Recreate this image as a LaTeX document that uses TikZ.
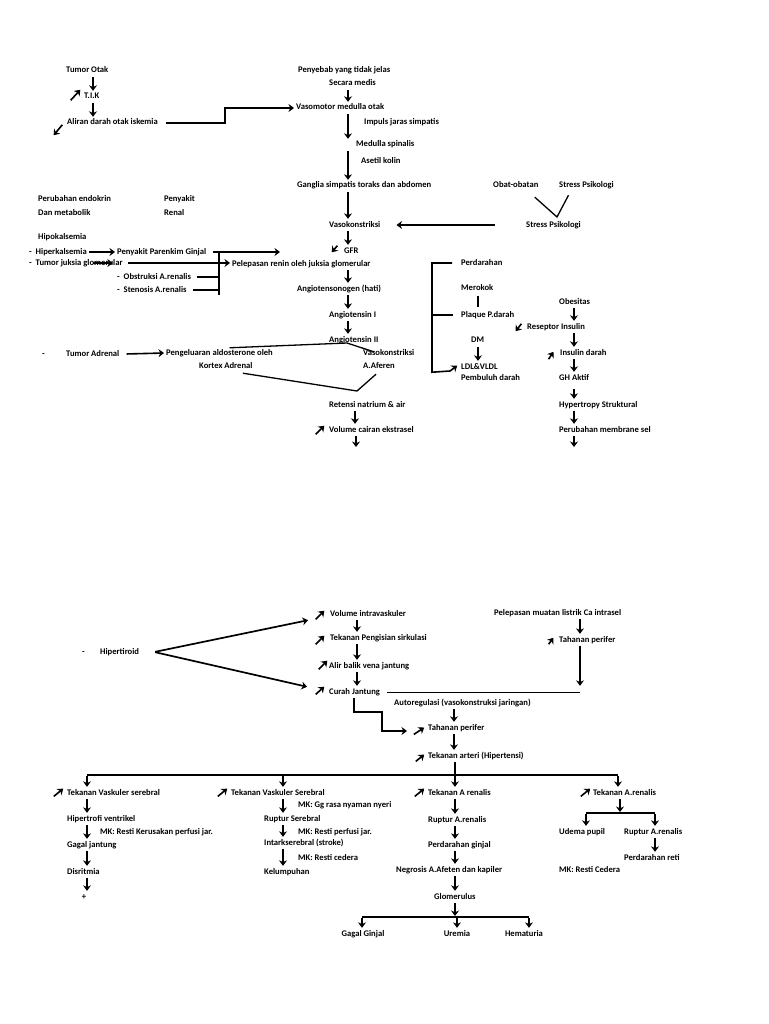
\documentclass[tikz,border=0pt]{standalone}
\usepackage{fontspec}
\setmainfont{Carlito}
\usetikzlibrary{arrows.meta}
\begin{document}
\begin{tikzpicture}[x=1pt,y=-1pt,
  t/.style={anchor=west, inner sep=1pt, text height=6pt, text depth=2pt, font=\fontsize{8.6}{10}\selectfont\bfseries},
  tc/.style={t, anchor=center},
  arr/.style={line width=1.6pt, -{Stealth[length=5.5pt,width=8pt,inset=1.8pt]}, shorten >=1pt, shorten <=1pt},
  conn/.style={line width=1.3pt},
  ]
\fill[white] (0,0) rectangle (768,1024);
\path[use as bounding box] (0,0) rectangle (768,1024);

% ---------- top part ----------
\node[t] (tumor) at (65,71) {Tumor Otak};
\node[t] (tik) at (83,97) {T.I.K};
\node[t] (aliran) at (66,123) {Aliran darah otak iskemia};
\node[t] (penyebab) at (297,71) {Penyebab yang tidak jelas};
\node[t] (secara) at (328,84) {Secara medis};
\node[t] (vasomotor) at (295,108) {Vasomotor medulla otak};
\node[t] (impuls) at (363,123) {Impuls jaras simpatis};
\node[t] (medulla) at (355,145) {Medulla spinalis};
\node[t] (asetil) at (360,162) {Asetil kolin};
\node[t] (ganglia) at (296,186) {Ganglia simpatis toraks dan abdomen};
\node[t] (vaso1) at (328,225) {Vasokonstriksi};
\node[t] (obat) at (492,186) {Obat-obatan};
\node[t] (stress1) at (558,186) {Stress Psikologi};
\node[t] (stress2) at (525,225) {Stress Psikologi};
\node[t] (gfr) at (343,251) {GFR};
\node[t] (renin) at (231,264) {Pelepasan renin oleh juksia glomerular};
\node[t] (angio0) at (296,289) {Angiotensonogen (hati)};
\node[t] (angio1) at (328,315) {Angiotensin I};
\node[t] (angio2) at (328,340) {Angiotensin II};
\node[t] (aldo) at (165,353) {Pengeluaran aldosterone oleh};
\node[t] (kortex) at (198,366) {Kortex Adrenal};
\node[t] (vaso2) at (362,353) {Vasokonstriksi};
\node[t] (aferen) at (362,366) {A.Aferen};
\node[t] (retensi) at (328,405) {Retensi natrium \& air};
\node[t] (volume) at (328,430) {Volume cairan ekstrasel};

\node[t] (endo) at (37,200) {Perubahan endokrin};
\node[t] (dan) at (37,213) {Dan metabolik};
\node[t] (penyakit) at (163,200) {Penyakit};
\node[t] (renal) at (163,213) {Renal};
\node[t] (hipok) at (37,238) {Hipokalsemia};
\node[t] (hiperk) at (28,252) {-\ \ Hiperkalsemia};
\node[t] (parenkim) at (116,252) {Penyakit Parenkim Ginjal};
\node[t] (tumorj) at (28,263) {-\ \ Tumor juksia glomerular};
\node[t] (obstruksi) at (116,277) {-\ \ Obstruksi A.renalis};
\node[t] (stenosis) at (116,290) {-\ \ Stenosis A.renalis};
\node[t] (dashA) at (41,354) {-};
\node[t] (tadrenal) at (65,354) {Tumor Adrenal};

\node[t] (perdarahan) at (460,263) {Perdarahan};
\node[t] (merokok) at (460,288) {Merokok};
\node[t] (plaque) at (460,315) {Plaque P.darah};
\node[t] (dm) at (470,340) {DM};
\node[t] (ldl) at (460,367) {LDL\&VLDL};
\node[t] (pembuluh) at (460,378) {Pembuluh darah};
\node[t] (obesitas) at (558,302) {Obesitas};
\node[t] (reseptor) at (526,327) {Reseptor Insulin};
\node[t] (insulin) at (559,353) {Insulin darah};
\node[t] (gh) at (558,378) {GH Aktif};
\node[t] (hyper) at (558,405) {Hypertropy Struktural};
\node[t] (membrane) at (558,430) {Perubahan membrane sel};

\coordinate (vj) at (557,217);
\coordinate (apex) at (347,343);
\coordinate (conv) at (357,391);
\coordinate (vend) at (356,448);
\coordinate (pk) at (281,252);
\coordinate (mend) at (574,448);

\draw[arr] (93,0 |- tumor.south) -- (93,0 |- tik.north);
\draw[arr] ([shift={(-13,4)}]tik.west) -- ++(11,-12);
\draw[arr] (93,0 |- tik.south) -- (93,0 |- aliran.north);
\draw[arr] ([shift={(-3,1)}]aliran.west) -- ++(-10,12);
\draw[arr] ([shift={(6,0)}]aliran.east) -- (225,0 |- aliran.east) |- (vasomotor.west);
\draw[arr] (348,0 |- secara.south) -- (348,0 |- vasomotor.north);
\draw[arr] (348,0 |- vasomotor.south) -- (348,0 |- medulla.north);
\draw[arr] (348,0 |- medulla.south) -- (348,0 |- ganglia.north);
\draw[arr] (348,0 |- ganglia.south) -- (348,0 |- vaso1.north);
\draw[arr, shorten <=30pt, shorten >=15pt] (stress2.west) -- (vaso1.east);
\draw[conn] ([shift={(19,6)}]obat.south) -- (vj) -- ([shift={(-18,4)}]stress1.south);
\draw[arr] (348,0 |- vaso1.south) -- (348,0 |- gfr.north);
\draw[arr] ([shift={(-5,-6)}]gfr.west) -- ++(-7,8);
\draw[arr] (348,0 |- renin.south) -- (348,0 |- angio0.north);
\draw[arr] (348,0 |- angio0.south) -- (348,0 |- angio1.north);
\draw[arr] (348,0 |- angio1.south) -- (348,0 |- angio2.north);
\draw[conn] ([shift={(10,0)}]aldo.north) -- (apex) -- ([shift={(-15,4)}]vaso2.north);
\draw[conn] ([shift={(17,2)}]kortex.south) -- (conv) -- ([shift={(-3,3)}]aferen.south);
\draw[arr] (355,0 |- retensi.south) -- (355,0 |- volume.north);
\draw[arr] ([shift={(-13,5)}]volume.west) -- ++(10,-10);
\draw[arr] (356,0 |- volume.south) -- (vend);

\draw[arr] (hiperk.east) -- (parenkim.west);
\draw[arr] ([shift={(5,0)}]parenkim.east) -- (pk);
\draw[arr] ([shift={(-32,0)}]tumorj.east) -- ([shift={(-10,0)}]tumorj.east);
\draw[arr] ([shift={(3,0)}]tumorj.east) -- (tumorj.east -| renin.west);
\draw[conn] ([shift={(5,0)}]obstruksi.east) -- (219,0 |- obstruksi.east);
\draw[conn] ([shift={(5,0)}]stenosis.east) -- (219,0 |- stenosis.east);
\draw[conn] (219,0 |- parenkim.east) -- (219,0 |- stenosis.south);
\draw[arr] ([shift={(5,0)}]tadrenal.east) -- (aldo.west);

\draw[arr] ([shift={(-7,0)}]perdarahan.west) -- (432,0 |- perdarahan.west) -- (432,0 |- ldl.south) -- ([shift={(-10,4)}]ldl.west) -- ([shift={(-2,-2)}]ldl.west);
\draw[conn] (432,0 |- plaque.west) -- ([shift={(-7,0)}]plaque.west);
\draw[conn, shorten <=3pt, shorten >=3pt] (478,0 |- merokok.south) -- (478,0 |- plaque.north);
\draw[arr, shorten <=2pt] (478,0 |- dm.south) -- (478,0 |- ldl.north);
\draw[arr] (574,0 |- obesitas.south) -- (574,0 |- reseptor.north);
\draw[arr] ([shift={(-4,-4)}]reseptor.west) -- ++(-7,9);
\draw[arr] (574,0 |- reseptor.south) -- (574,0 |- insulin.north);
\draw[arr] ([shift={(-11,7)}]insulin.west) -- ++(6,-9);
\draw[arr] (574,0 |- insulin.south) -- (574,0 |- gh.north);
\draw[arr, shorten <=6pt] (574,0 |- gh.south) -- (574,0 |- hyper.north);
\draw[arr] (574,0 |- hyper.south) -- (574,0 |- membrane.north);
\draw[arr] (574,0 |- membrane.south) -- (mend);

% ---------- bottom part ----------
\node[t] (hdash) at (81,652) {-};
\node[t] (hiper) at (99,652) {Hipertiroid};
\node[t] (volintra) at (329,614) {Volume intravaskuler};
\node[t] (tekpeng) at (329,638) {Tekanan Pengisian sirkulasi};
\node[t] (alir) at (328,666) {Alir balik vena jantung};
\node[t] (curah) at (328,692) {Curah Jantung};
\node[t] (pelepasan) at (493,613) {Pelepasan muatan listrik Ca intrasel};
\node[t] (tahanan1) at (558,640) {Tahanan perifer};
\node[t] (auto) at (393,703) {Autoregulasi (vasokonstruksi jaringan)};
\node[t] (tahanan2) at (427,728) {Tahanan perifer};
\node[t] (tekart) at (427,756) {Tekanan arteri (Hipertensi)};

\node[t] (b1a) at (66,793) {Tekanan Vaskuler serebral};
\node[t] (b1b) at (66,819) {Hipertrofi ventrikel};
\node[t] (b1mk) at (99,832) {MK: Resti Kerusakan perfusi jar.};
\node[t] (b1c) at (66,845) {Gagal jantung};
\node[t] (b1d) at (66,872) {Disritmia};
\node[tc] (b1e) at (84,897) {+};

\node[t] (b2a) at (230,793) {Tekanan Vaskuler Serebral};
\node[t] (b2mk1) at (297,805) {MK: Gg rasa nyaman nyeri};
\node[t] (b2b) at (263,819) {Ruptur Serebral};
\node[t] (b2mk2) at (297,832) {MK: Resti perfusi jar.};
\node[t] (b2c) at (263,843) {Intarkserebral (stroke)};
\node[t] (b2mk3) at (297,858) {MK: Resti cedera};
\node[t] (b2d) at (263,872) {Kelumpuhan};

\node[t] (b3a) at (427,793) {Tekanan A renalis};
\node[t] (b3b) at (427,820) {Ruptur A.renalis};
\node[t] (b3c) at (427,845) {Perdarahan ginjal};
\node[t] (b3d) at (395,870) {Negrosis A.Afeten dan kapiler};
\node[t] (b3e) at (433,897) {Glomerulus};
\node[tc] (gg) at (363,934) {Gagal Ginjal};
\node[tc] (ur) at (457,934) {Uremia};
\node[tc] (hem) at (524,934) {Hematuria};

\node[t] (b4a) at (592,793) {Tekanan A.renalis};
\node[t] (udema) at (558,832) {Udema pupil};
\node[t] (ruptur4) at (623,832) {Ruptur A.renalis};
\node[t] (perdreti) at (623,858) {Perdarahan reti};
\node[t] (mk4) at (558,870) {MK: Resti Cedera};

\coordinate (hs) at ([shift={(14,0)}]hiper.east);
\coordinate (cb1) at (382,712);
\coordinate (cb2) at (382,731);
\coordinate (hl1) at (87,775);
\coordinate (hl2) at (618,775);
\coordinate (gl1) at (362,917);
\coordinate (gl2) at (529,917);
\coordinate (l4a) at (586,813);
\coordinate (l4b) at (655,813);

\draw[arr, line width=1.7pt] (hs) -- ([shift={(-20,6)}]volintra.west);
\draw[arr, line width=1.7pt] (hs) -- ([shift={(-20,-5)}]curah.west);
\draw[arr] ([shift={(-14,6)}]volintra.west) -- ++(10,-10);
\draw[arr] ([shift={(-14,7)}]tekpeng.west) -- ++(10,-10);
\draw[arr] ([shift={(-10,4)}]alir.west) -- ++(10,-10);
\draw[arr] ([shift={(-13,3)}]curah.west) -- ++(10,-9);
\draw[arr] (357,0 |- volintra.south) -- (357,0 |- tekpeng.north);
\draw[arr] (357,0 |- tekpeng.south) -- (357,0 |- alir.north);
\draw[arr] (357,0 |- alir.south) -- (357,0 |- curah.north);
\draw[line width=0.8pt] ([shift={(6,0)}]curah.east) -- (580,0 |- curah.east);
\draw[arr] (580,0 |- pelepasan.south) -- (580,0 |- tahanan1.north);
\draw[arr] ([shift={(-10,5)}]tahanan1.west) -- ++(6,-8);
\draw[arr] (580,0 |- tahanan1.south) -- (580,0 |- curah.north);
\draw[arr] (354,0 |- curah.south) |- (cb1) -- (cb2) -- ([shift={(-19,3)}]tahanan2.west);
\draw[arr] (454,0 |- auto.south) -- (454,0 |- tahanan2.north);
\draw[arr] ([shift={(-14,7)}]tahanan2.west) -- ++(12,-8);
\draw[arr] (454,0 |- tahanan2.south) -- (454,0 |- tekart.north);
\draw[arr] ([shift={(-12,6)}]tekart.west) -- ++(10,-8);

\draw[conn] (hl1) -- (hl2);
\draw[arr] (455,0 |- tekart.south) -- (455,0 |- b3a.north);
\draw[arr] (hl1) -- (87,0 |- b1a.north);
\draw[arr] (283,0 |- hl1) -- (283,0 |- b2a.north);
\draw[arr] (hl2) -- (618,0 |- b4a.north);

\draw[arr] ([shift={(-13,4)}]b1a.west) -- ++(11,-9);
\draw[arr] (87,0 |- b1a.south) -- (87,0 |- b1b.north);
\draw[arr] (87,0 |- b1b.south) -- (87,0 |- b1c.north);
\draw[arr] (87,0 |- b1c.south) -- (87,0 |- b1d.north);
\draw[arr] (87,0 |- b1d.south) -- (87,0 |- b1e.north);

\draw[arr] ([shift={(-13,4)}]b2a.west) -- ++(11,-9);
\draw[arr] (283,0 |- b2a.south) -- (283,0 |- b2b.north);
\draw[arr] (283,0 |- b2b.south) -- (283,0 |- b2c.north);
\draw[arr] (283,0 |- b2c.south) -- (283,0 |- b2d.north);

\draw[arr] ([shift={(-13,4)}]b3a.west) -- ++(11,-9);
\draw[arr] (455,0 |- b3a.south) -- (455,0 |- b3b.north);
\draw[arr] (455,0 |- b3b.south) -- (455,0 |- b3c.north);
\draw[arr] (455,0 |- b3c.south) -- (455,0 |- b3d.north);
\draw[arr] (455,0 |- b3d.south) -- (455,0 |- b3e.north);
\draw[arr] (455,0 |- b3e.south) -- (455,0 |- gl1);
\draw[conn] (gl1) -- (gl2);
\draw[arr] (gl1) -- (362,0 |- gg.north);
\draw[arr] (457,0 |- gl1) -- (457,0 |- ur.north);
\draw[arr] (gl2) -- (529,0 |- hem.north);

\draw[arr] ([shift={(-12,4)}]b4a.west) -- ++(11,-9);
\draw[arr] (620,0 |- b4a.south) -- (620,0 |- l4a);
\draw[conn] (l4a) -- (l4b);
\draw[arr] (l4a) -- (586,0 |- udema.north);
\draw[arr] (l4b) -- (655,0 |- ruptur4.north);
\draw[arr] (655,0 |- ruptur4.south) -- (655,0 |- perdreti.north);
\end{tikzpicture}
\end{document}
